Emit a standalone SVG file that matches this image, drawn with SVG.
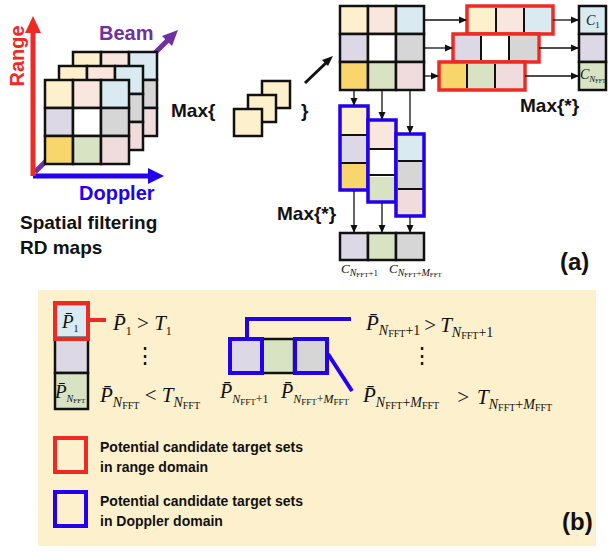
<svg xmlns="http://www.w3.org/2000/svg" width="612" height="552" viewBox="0 0 612 552">
<style>
.c{stroke:#111;stroke-width:2.5}
.y{fill:#fdf0cc}.p{fill:#f9e6dc}.b{fill:#d9eaf0}.l{fill:#ddd8e6}.w{fill:#fff}.g{fill:#d6d6d6}.o{fill:#f8d66b}.n{fill:#d7e3c2}.k{fill:#f0dcdc}
.t{font-family:"Liberation Sans",Arial,sans-serif;font-weight:bold;fill:#111}
.m{font-family:"Liberation Serif","Times New Roman",serif;fill:#111}
.a{stroke:#111;stroke-width:1.3;fill:none;marker-end:url(#ah)}
.s{font-size:14px;font-style:italic}
.f{font-size:10px;font-style:normal}
.r{font-size:14px;font-style:normal}
.s2{font-size:12px;font-style:italic}
.f2{font-size:9px;font-style:normal}
.r2{font-size:12px;font-style:normal}
</style>
<defs>
<marker id="ah" markerWidth="8" markerHeight="8" refX="7" refY="4" orient="auto" markerUnits="userSpaceOnUse"><path d="M0,0.5 L8,4 L0,7.5z" fill="#111"/></marker>
</defs>
<rect x="38" y="290" width="558" height="256" fill="#fdf0cc"/>
<g id="cube">
<line x1="35" y1="172" x2="172" y2="36" stroke="#7030a0" stroke-width="5"/>
<path d="M178,30 L162,36 L172,46z" fill="#7030a0"/>
<g transform="translate(73,52)"><rect class="c y" x="0" y="0" width="28" height="28"/><rect class="c p" x="28" y="0" width="28" height="28"/><rect class="c b" x="56" y="0" width="28" height="28"/><rect class="c g" x="56" y="28" width="28" height="28"/><rect class="c k" x="56" y="56" width="28" height="28"/></g>
<g transform="translate(59,66)"><rect class="c y" x="0" y="0" width="28" height="28"/><rect class="c p" x="28" y="0" width="28" height="28"/><rect class="c b" x="56" y="0" width="28" height="28"/><rect class="c g" x="56" y="28" width="28" height="28"/><rect class="c k" x="56" y="56" width="28" height="28"/></g>
<g transform="translate(45,80)"><rect class="c y" x="0" y="0" width="28" height="28"/><rect class="c p" x="28" y="0" width="28" height="28"/><rect class="c b" x="56" y="0" width="28" height="28"/><rect class="c l" x="0" y="28" width="28" height="28"/><rect class="c w" x="28" y="28" width="28" height="28"/><rect class="c g" x="56" y="28" width="28" height="28"/><rect class="c o" x="0" y="56" width="28" height="28"/><rect class="c n" x="28" y="56" width="28" height="28"/><rect class="c k" x="56" y="56" width="28" height="28"/></g>
<line x1="33" y1="176" x2="150" y2="176" stroke="#2200ee" stroke-width="5"/>
<path d="M164,176 L148,168 L148,184z" fill="#2200ee"/>
<line x1="33" y1="176" x2="33" y2="30" stroke="#ee2a24" stroke-width="5"/>
<path d="M33,16 L25,33 L41,33z" fill="#ee2a24"/>
<text class="t" x="24" y="56" font-size="20" style="fill:#ee2a24" text-anchor="middle" transform="rotate(-90 24 56)">Range</text>
<text class="t" x="99" y="40" font-size="20" style="fill:#7030a0">Beam</text>
<text class="t" x="79" y="200" font-size="20" style="fill:#2200ee">Doppler</text>
<text class="t" x="20" y="229" font-size="19">Spatial filtering</text>
<text class="t" x="20" y="254" font-size="19">RD maps</text>
</g>
<g id="maxstack">
<text class="t" x="171" y="117" font-size="19">Max{</text>
<rect class="c y" x="262" y="81" width="28" height="27"/>
<rect class="c y" x="248" y="95" width="28" height="27"/>
<rect class="c y" x="234" y="109" width="28" height="27"/>
<text class="t" x="301" y="117" font-size="19">}</text>
</g>
<g id="grid">
<rect class="c y" x="340" y="6" width="28" height="28"/><rect class="c p" x="368" y="6" width="28" height="28"/><rect class="c b" x="396" y="6" width="28" height="28"/>
<rect class="c l" x="340" y="34" width="28" height="28"/><rect class="c w" x="368" y="34" width="28" height="28"/><rect class="c g" x="396" y="34" width="28" height="28"/>
<rect class="c o" x="340" y="62" width="28" height="28"/><rect class="c n" x="368" y="62" width="28" height="28"/><rect class="c k" x="396" y="62" width="28" height="28"/>
</g>
<g id="redrows">
<rect class="y" x="468" y="7" width="28" height="26"/><rect class="p" x="496" y="7" width="28" height="26"/><rect class="b" x="524" y="7" width="28" height="26"/>
<rect x="467" y="6" width="86" height="28" fill="none" stroke="#ee2a24" stroke-width="3.5"/>
<g stroke="#111" stroke-width="2"><line x1="496" y1="8" x2="496" y2="32"/><line x1="524" y1="8" x2="524" y2="32"/></g>
<rect class="l" x="453" y="35" width="28" height="26"/><rect class="w" x="481" y="35" width="28" height="26"/><rect class="g" x="509" y="35" width="28" height="26"/>
<rect x="453" y="34" width="86" height="28" fill="none" stroke="#ee2a24" stroke-width="3.5"/>
<g stroke="#111" stroke-width="2"><line x1="481" y1="36" x2="481" y2="60"/><line x1="509" y1="36" x2="509" y2="60"/></g>
<rect class="o" x="439" y="63" width="28" height="26"/><rect class="n" x="467" y="63" width="28" height="26"/><rect class="k" x="495" y="63" width="28" height="26"/>
<rect x="439" y="62" width="86" height="28" fill="none" stroke="#ee2a24" stroke-width="3.5"/>
<g stroke="#111" stroke-width="2"><line x1="467" y1="64" x2="467" y2="88"/><line x1="495" y1="64" x2="495" y2="88"/></g>
<text class="t" x="520" y="112" font-size="19">Max{*}</text>
</g>
<g id="ccol">
<rect class="c b" x="579" y="6" width="27" height="28"/><rect class="c l" x="579" y="34" width="27" height="28"/><rect class="c n" x="579" y="62" width="27" height="28"/>
<text class="m" x="586" y="25" font-size="14" font-style="italic">C<tspan font-size="9" font-style="normal" dy="3">1</tspan></text>
<text class="m" x="580" y="79" font-size="14" font-style="italic">C<tspan font-size="9" dy="3">N</tspan><tspan font-size="6" font-style="normal" dy="1">FFT</tspan></text>
</g>
<g id="bluecols">
<rect class="y" x="340" y="107" width="28" height="28"/><rect class="l" x="340" y="135" width="28" height="28"/><rect class="o" x="340" y="163" width="28" height="27"/>
<g stroke="#111" stroke-width="2"><line x1="341" y1="135" x2="367" y2="135"/><line x1="341" y1="163" x2="367" y2="163"/></g>
<rect x="340" y="106" width="28" height="84" fill="none" stroke="#2200ee" stroke-width="3.5"/>
<rect class="p" x="368" y="121" width="28" height="28"/><rect class="w" x="368" y="149" width="28" height="28"/><rect class="n" x="368" y="177" width="28" height="25"/>
<g stroke="#111" stroke-width="2"><line x1="369" y1="149" x2="395" y2="149"/><line x1="369" y1="175" x2="395" y2="175"/></g>
<rect x="368" y="120" width="28" height="82" fill="none" stroke="#2200ee" stroke-width="3.5"/>
<rect class="b" x="397" y="135" width="27" height="27"/><rect class="g" x="397" y="162" width="27" height="27"/><rect class="k" x="397" y="189" width="27" height="27"/>
<g stroke="#111" stroke-width="2"><line x1="398" y1="161" x2="423" y2="161"/><line x1="398" y1="189" x2="423" y2="189"/></g>
<rect x="396" y="134" width="28" height="82" fill="none" stroke="#2200ee" stroke-width="3.5"/>
<text class="t" x="277" y="220" font-size="19">Max{*}</text>
</g>
<g id="bottomrow">
<rect class="c l" x="340" y="233" width="28" height="27"/><rect class="c n" x="368" y="233" width="28" height="27"/><rect class="c g" x="396" y="233" width="28" height="27"/>
<text class="m" x="341" y="273" font-size="13" font-style="italic">C<tspan font-size="10" dy="3">N</tspan><tspan font-size="7" font-style="normal" dy="1">FFT</tspan><tspan font-size="9" font-style="normal" dy="-1">+1</tspan></text>
<text class="m" x="389" y="273" font-size="13" font-style="italic">C<tspan font-size="10" dy="3">N</tspan><tspan font-size="7" font-style="normal" dy="1">FFT</tspan><tspan font-size="9" font-style="normal" dy="-1">+</tspan><tspan font-size="10">M</tspan><tspan font-size="7" font-style="normal" dy="1">FFT</tspan></text>
<text class="t" x="560" y="270" font-size="24">(a)</text>
</g>
<g id="connectors">
<line x1="305" y1="83" x2="328" y2="61" stroke="#111" stroke-width="3"/>
<path d="M333,56 L322,60 L328,66z" fill="#111"/>
<line class="a" x1="424" y1="20" x2="466" y2="20"/>
<line class="a" x1="424" y1="48" x2="452" y2="48"/>
<line class="a" x1="424" y1="76" x2="438" y2="76"/>
<line class="a" x1="553" y1="20" x2="578" y2="20"/>
<line class="a" x1="539" y1="48" x2="578" y2="48"/>
<line class="a" x1="525" y1="76" x2="578" y2="76"/>
<line class="a" x1="354" y1="90" x2="354" y2="105"/>
<line class="a" x1="382" y1="90" x2="382" y2="119"/>
<line class="a" x1="410" y1="90" x2="410" y2="133"/>
<line class="a" x1="354" y1="191" x2="354" y2="232"/>
<line class="a" x1="382" y1="203" x2="382" y2="232"/>
<line class="a" x1="410" y1="217" x2="410" y2="232"/>
</g>
<g id="panelb">
<rect class="c b" x="55" y="304" width="33" height="34"/><rect class="c l" x="55" y="338" width="33" height="35"/><rect class="c n" x="55" y="373" width="33" height="36"/>
<rect x="55" y="303" width="33" height="36" fill="none" stroke="#ee2a24" stroke-width="4"/>
<line x1="88" y1="320" x2="106" y2="320" stroke="#ee2a24" stroke-width="4"/>
<text class="m" x="62" y="328" font-size="19" font-style="italic">P̄<tspan font-size="10" font-style="normal" dy="4">1</tspan></text>
<text class="m" x="55" y="398" font-size="19" font-style="italic">P̄<tspan font-size="10" dy="4">N</tspan><tspan font-size="7" font-style="normal" dy="1">FFT</tspan></text>
<text class="m" x="113" y="330" font-size="21" font-style="italic">P̄<tspan font-size="12" font-style="normal" dy="5">1</tspan><tspan font-style="normal" dy="-5"> &gt; </tspan>T<tspan font-size="12" font-style="normal" dy="5">1</tspan></text>
<text class="m" x="134" y="363" font-size="22">⋮</text>
<text class="m" x="100" y="402" font-size="21" font-style="italic">P̄<tspan class="s" dy="5">N</tspan><tspan class="f" dy="2">FFT</tspan><tspan font-style="normal" dy="-7"> &lt; </tspan>T<tspan class="s" dy="5">N</tspan><tspan class="f" dy="2">FFT</tspan></text>
<rect class="c n" x="262" y="339" width="32" height="34"/>
<rect class="l" x="230" y="339" width="32" height="34" stroke="#2200ee" stroke-width="4"/>
<rect class="g" x="295" y="339" width="32" height="34" stroke="#2200ee" stroke-width="4"/>
<polyline points="247,339 247,319 351,319" fill="none" stroke="#2200ee" stroke-width="4"/>
<line x1="328" y1="354" x2="352" y2="391" stroke="#2200ee" stroke-width="4"/>
<text class="m" x="220" y="398" font-size="20" font-style="italic">P̄<tspan class="s2" dy="5">N</tspan><tspan class="f2" dy="2">FFT</tspan><tspan class="r2" dy="-2">+1</tspan></text>
<text class="m" x="281" y="398" font-size="20" font-style="italic">P̄<tspan class="s2" dy="5">N</tspan><tspan class="f2" dy="2">FFT</tspan><tspan class="r2" dy="-2">+</tspan><tspan class="s2">M</tspan><tspan class="f2" dy="2">FFT</tspan></text>
<text class="m" x="366" y="330" font-size="21" font-style="italic">P̄<tspan class="s" dy="5">N</tspan><tspan class="f" dy="2">FFT</tspan><tspan class="r" dy="-2">+1</tspan><tspan font-style="normal" dy="-3" dx="4">&gt;</tspan><tspan dx="4">T</tspan><tspan class="s" dy="5">N</tspan><tspan class="f" dy="2">FFT</tspan><tspan class="r" dy="-2">+1</tspan></text>
<text class="m" x="411" y="363" font-size="22">⋮</text>
<text class="m" x="363" y="402" font-size="21" font-style="italic">P̄<tspan class="s" dy="5">N</tspan><tspan class="f" dy="2">FFT</tspan><tspan class="r" dy="-2">+</tspan><tspan class="s">M</tspan><tspan class="f" dy="2">FFT</tspan><tspan font-style="normal" dy="-5" dx="18">&gt;</tspan><tspan dx="8">T</tspan><tspan class="s" dy="5">N</tspan><tspan class="f" dy="2">FFT</tspan><tspan class="r" dy="-2">+</tspan><tspan class="s">M</tspan><tspan class="f" dy="2">FFT</tspan></text>
</g>
<g id="legend">
<rect x="55" y="438" width="31" height="34" fill="none" stroke="#ee2a24" stroke-width="4"/>
<text class="t" x="100" y="452" font-size="14">Potential candidate target sets</text>
<text class="t" x="100" y="472" font-size="14">in range domain</text>
<rect x="55" y="492" width="31" height="34" fill="none" stroke="#2200ee" stroke-width="4"/>
<text class="t" x="100" y="506" font-size="14">Potential candidate target sets</text>
<text class="t" x="100" y="526" font-size="14">in Doppler domain</text>
<text class="t" x="562" y="530" font-size="24">(b)</text>
</g>
</svg>
